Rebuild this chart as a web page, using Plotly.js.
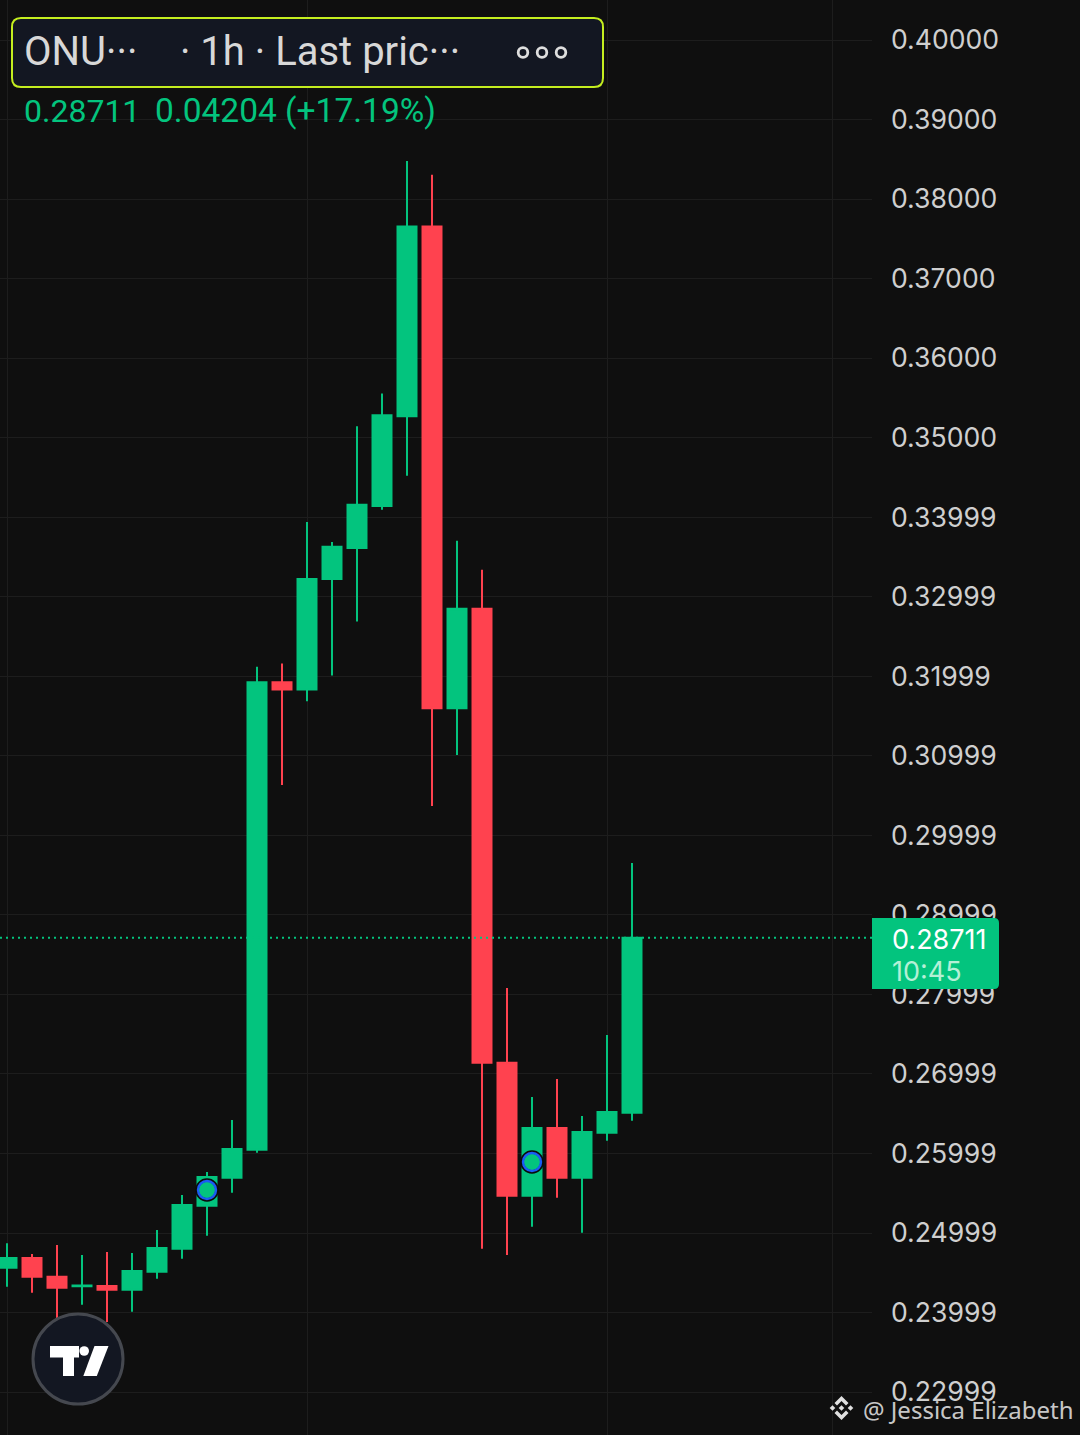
<!DOCTYPE html>
<html><head><meta charset="utf-8">
<script src="https://cdn.plot.ly/plotly-3.0.1.min.js"></script>
<style>html,body{margin:0;padding:0;background:#0f0f0f;}#chart{width:1080px;height:1435px;}</style>
</head><body><div id="chart"></div>
<script>
// ---- data ----
const bars   = [0,1,2,3,4,5,6,7,8,9,10,11,12,13,14,15,16,17,18,19,20,21,22,23,24,25];
const opens  = [0.24563,0.24685,0.24450,0.24330,0.24333,0.24286,0.24512,0.24802,0.25342,0.25694,0.26046,0.31924,0.31832,0.33224,0.33612,0.34140,0.35268,0.37654,0.31597,0.32850,0.27141,0.25468,0.26319,0.25695,0.26260,0.26512];
const highs  = [0.24870,0.24735,0.24848,0.24723,0.24760,0.24748,0.25037,0.25477,0.25766,0.26420,0.32120,0.32159,0.33939,0.33689,0.35144,0.35556,0.38480,0.38306,0.33704,0.33340,0.28080,0.26709,0.26936,0.26470,0.27489,0.29652];
const lows   = [0.24324,0.24248,0.23905,0.24097,0.23880,0.24010,0.24425,0.24676,0.24965,0.25506,0.26009,0.30632,0.31684,0.32010,0.32687,0.34093,0.34520,0.30368,0.31010,0.24802,0.24723,0.25079,0.25443,0.25003,0.26160,0.26411];
const closes = [0.24685,0.24450,0.24311,0.24340,0.24286,0.24521,0.24811,0.25351,0.25703,0.26055,0.31924,0.31832,0.33224,0.33627,0.34156,0.35283,0.37654,0.31597,0.32850,0.27141,0.25468,0.26319,0.25695,0.26269,0.26521,0.28711];
const markerBars = [8, 21];
const markerVals = [0.25540, 0.25892];
const gridBars   = [0, 12, 24, 33];
const tickLabels = ['0.40000','0.39000','0.38000','0.37000','0.36000','0.35000','0.33999','0.32999','0.31999','0.30999','0.29999','0.28999','0.27999','0.26999','0.25999','0.24999','0.23999','0.22999'];
const lastPrice  = 0.28711;
const lastPriceText = '0.28711';
const changeText = '0.04204 (+17.19%)';
const countdown  = '10:45';
const symbolText = 'ONU\u00b7\u00b7\u00b7';
const headerText = '\u00b7 1h \u00b7 Last pric\u00b7\u00b7\u00b7';
const watermark  = '@ Jessica Elizabeth';

// ---- helpers for pixel-placed decorations ----
const W = 1080, H = 1435, PW = 872;
const px = x => x / PW;
const py = y => 1 - y / H;
const P = (x, y) => px(x) + ',' + py(y);
function rrPath(x0, y0, x1, y1, rl, rr) {
  return 'M' + P(x0 + rl, y0) + ' L' + P(x1 - rr, y0) + ' Q' + P(x1, y0) + ' ' + P(x1, y0 + rr) +
    ' L' + P(x1, y1 - rr) + ' Q' + P(x1, y1) + ' ' + P(x1 - rr, y1) +
    ' L' + P(x0 + rl, y1) + ' Q' + P(x0, y1) + ' ' + P(x0, y1 - rl) +
    ' L' + P(x0, y0 + rl) + ' Q' + P(x0, y0) + ' ' + P(x0 + rl, y0) + ' Z';
}
function poly(pts) { return 'M' + pts.map(p => P(p[0], p[1])).join(' L') + ' Z'; }
function circ(cx, cy, r, fill, line, lw) {
  return {type: 'circle', xref: 'paper', yref: 'paper', layer: 'above',
    x0: px(cx - r), x1: px(cx + r), y0: py(cy + r), y1: py(cy - r),
    fillcolor: fill, line: {color: line, width: lw}};
}
function pathShape(d, fill, line, lw) {
  return {type: 'path', xref: 'paper', yref: 'paper', layer: 'above', path: d,
    fillcolor: fill, line: {color: line, width: lw}};
}

const GREEN = '#03C47E', RED = '#FF424F';

const traces = [
  {type: 'candlestick', x: bars, open: opens, high: highs, low: lows, close: closes,
   increasing: {line: {color: GREEN, width: 2}, fillcolor: GREEN},
   decreasing: {line: {color: RED, width: 2}, fillcolor: RED},
   whiskerwidth: 0, hoverinfo: 'skip'},
  {type: 'scatter', mode: 'markers', x: markerBars, y: markerVals, hoverinfo: 'skip',
   marker: {symbol: 'circle', size: 20, color: 'rgba(0,0,0,0)', line: {color: '#0b0b0b', width: 3.5}}},
  {type: 'scatter', mode: 'markers', x: markerBars, y: markerVals, hoverinfo: 'skip',
   marker: {symbol: 'circle', size: 18, color: 'rgba(0,0,0,0)', line: {color: '#1A5CF5', width: 2.4}}}
];

// Binance-like logo
const bx = 841.5, by = 1408;
const bnb = [
  poly([[bx, by - 12], [bx + 7, by - 5], [bx + 4.5, by - 2.5], [bx, by - 7], [bx - 4.5, by - 2.5], [bx - 7, by - 5]]),
  poly([[bx, by + 12], [bx + 7, by + 5], [bx + 4.5, by + 2.5], [bx, by + 7], [bx - 4.5, by + 2.5], [bx - 7, by + 5]]),
  poly([[bx, by - 2.8], [bx + 2.8, by], [bx, by + 2.8], [bx - 2.8, by]]),
  poly([[bx - 9, by - 2.8], [bx - 6.2, by], [bx - 9, by + 2.8], [bx - 11.8, by]]),
  poly([[bx + 9, by - 2.8], [bx + 11.8, by], [bx + 9, by + 2.8], [bx + 6.2, by]])
];

const shapes = [
  {type: 'line', xref: 'paper', yref: 'y', x0: 0, x1: 1, y0: lastPrice, y1: lastPrice, layer: 'above',
   line: {color: GREEN, width: 2, dash: '2px,4px'}},
  // header box
  pathShape(rrPath(12, 18, 603, 87, 9, 9), '#131722', '#C4EE1F', 2),
  circ(523, 52.5, 4.8, 'rgba(0,0,0,0)', '#dedede', 2.8),
  circ(542, 52.5, 4.8, 'rgba(0,0,0,0)', '#dedede', 2.8),
  circ(561, 52.5, 4.8, 'rgba(0,0,0,0)', '#dedede', 2.8),
  // price label
  pathShape(rrPath(872, 918, 999, 989, 0.01, 5), GREEN, GREEN, 0),
  // TradingView logo
  circ(78, 1359, 45, '#131722', '#45484F', 3),
  pathShape(poly([[50, 1346], [79, 1346], [79, 1357.5], [74, 1357.5], [74, 1376], [63, 1376], [63, 1357.5], [50, 1357.5]]), '#ffffff', '#ffffff', 0),
  circ(84.2, 1351, 4.8, '#ffffff', '#ffffff', 0),
  pathShape(poly([[94.5, 1346], [108.5, 1346], [96.8, 1376], [83.3, 1376]]), '#ffffff', '#ffffff', 0)
].concat(bnb.map(d => pathShape(d, '#e0e0e0', '#e0e0e0', 0)));

function ann(text, x, y, size, color, family, anchor) {
  return {text: text, xref: 'paper', yref: 'paper', x: px(x), y: py(y), xanchor: anchor || 'left', yanchor: 'middle',
    showarrow: false, font: {family: family || 'Roboto', size: size, color: color}};
}
const annotations = [
  ann(symbolText, 22, 52, 40, '#d8d8d8'),
  ann(headerText, 178, 52, 40, '#d8d8d8'),
  ann(lastPriceText, 22, 111, 32, GREEN),
  ann(changeText, 153, 111, 33.5, GREEN),
  ann(lastPriceText, 890, 940, 27, '#ffffff', 'Inter'),
  ann(countdown, 890, 971, 27, '#b4f0d6', 'Inter'),
  ann(watermark, 861, 1409, 24, 'rgba(225,225,225,0.9)', 'Noto Sans')
];

const layout = {
  width: W, height: H, margin: {l: 0, r: W - PW, t: 0, b: 0},
  paper_bgcolor: '#0f0f0f', plot_bgcolor: '#0f0f0f', showlegend: false,
  boxgap: 0.24, boxgroupgap: 0,
  xaxis: {range: [-0.28, 34.6], rangeslider: {visible: false}, tickvals: gridBars, showticklabels: false,
          showgrid: true, gridcolor: '#1d1d1d', gridwidth: 1, zeroline: false, showline: false, fixedrange: true},
  yaxis: {side: 'right', range: [0.22459, 0.40503], tickvals: tickLabels.map(Number), ticktext: tickLabels,
          showgrid: true, gridcolor: '#1d1d1d', gridwidth: 1, zeroline: false, showline: false,
          ticks: '', ticklabelstandoff: 18, tickfont: {family: 'Inter', size: 26.6, color: '#cfcfcf'}, fixedrange: true},
  shapes: shapes, annotations: annotations, hovermode: false
};
Plotly.newPlot('chart', traces, layout, {displayModeBar: false, staticPlot: true});
</script></body></html>
